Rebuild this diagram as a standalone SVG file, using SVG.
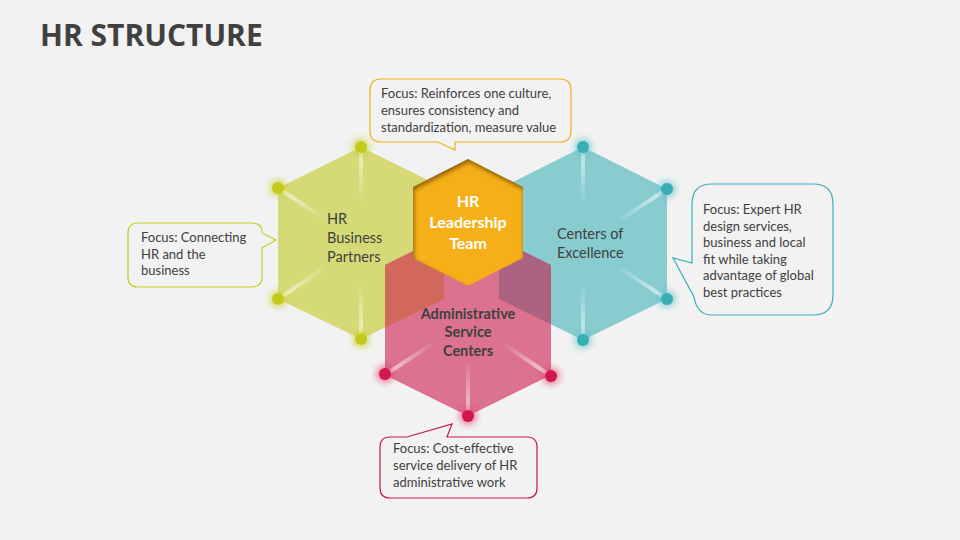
<svg xmlns="http://www.w3.org/2000/svg" width="960" height="540" viewBox="0 0 960 540">
<defs>
<style>
.title{font-family:"Open Sans","Liberation Sans",sans-serif;font-weight:700;font-size:30px;fill:#404040}
.body{font-family:Lato,"Liberation Sans",sans-serif;font-size:13px;fill:#404040}
.hx{font-family:Lato,"Liberation Sans",sans-serif;font-size:14.5px;fill:#404040}
.hxb{font-family:Lato,"Liberation Sans",sans-serif;font-size:14.5px;font-weight:700;fill:#404040}
.hxw{font-family:Lato,"Liberation Sans",sans-serif;font-size:16px;font-weight:700;fill:#ffffff}
.callout{fill:#F2F2F2;stroke-width:1.2}
.spoke{stroke:#ffffff;stroke-width:4;stroke-opacity:0.65;stroke-linecap:round}
</style>
<radialGradient id="fade"><stop offset="0.4" stop-color="#000"/><stop offset="0.97" stop-color="#fff"/></radialGradient>
<mask id="mG" maskUnits="userSpaceOnUse" x="0" y="0" width="960" height="540"><circle cx="361" cy="243" r="100" fill="url(#fade)"/></mask>
<mask id="mT" maskUnits="userSpaceOnUse" x="0" y="0" width="960" height="540"><circle cx="583" cy="244" r="100" fill="url(#fade)"/></mask>
<mask id="mP" maskUnits="userSpaceOnUse" x="0" y="0" width="960" height="540"><circle cx="468" cy="320" r="100" fill="url(#fade)"/></mask>
<filter id="glow" x="-100%" y="-100%" width="300%" height="300%"><feGaussianBlur stdDeviation="3"/></filter>
<filter id="blur" x="-20%" y="-20%" width="140%" height="140%"><feGaussianBlur stdDeviation="2"/></filter>
<clipPath id="orClip"><polygon points="468,159 523,187 523,258 468,286 413,258 413,187"/></clipPath>
</defs>
<rect width="960" height="540" fill="#F2F2F2"/>
<text class="title" x="40" y="46">HR STRUCTURE</text>

<g id="hr-business-partners">
<polygon points="361,147 444,188 444,299 361,339 278,299 278,188" fill="#D5DA77"/>
</g>
<g id="centers-of-excellence">
<polygon points="583,147 667,189 667,299 583,340 499,299 499,189" fill="#89CCD0"/>
</g>
<g id="administrative-service-centers">
<polygon points="468,224 551,265 551,375 468,416 385,375 385,265" fill="#DC7290"/>
<polygon points="385,265 444,236 444,299 385,327.4" fill="#D1685B"/>
<polygon points="499,239.3 551,265 551,324.4 499,299" fill="#AE6281"/>
</g>

<g id="spokes">
<g mask="url(#mG)">
<line class="spoke" x1="361" y1="147" x2="361" y2="243"/>
<line class="spoke" x1="278" y1="188" x2="361" y2="243"/>
<line class="spoke" x1="278" y1="299" x2="361" y2="243"/>
<line class="spoke" x1="361" y1="339" x2="361" y2="243"/>
</g>
<g mask="url(#mT)">
<line class="spoke" x1="583" y1="147" x2="583" y2="244"/>
<line class="spoke" x1="667" y1="189" x2="583" y2="244"/>
<line class="spoke" x1="667" y1="299" x2="583" y2="244"/>
<line class="spoke" x1="583" y1="340" x2="583" y2="244"/>
</g>
<g mask="url(#mP)">
<line class="spoke" x1="385" y1="375" x2="468" y2="320"/>
<line class="spoke" x1="551" y1="376" x2="468" y2="320"/>
<line class="spoke" x1="468" y1="416" x2="468" y2="320"/>
</g>
</g>

<g id="dots">
<g fill="#C9CF2A">
<circle cx="361" cy="147" r="9" opacity="0.6" filter="url(#glow)"/>
<circle cx="278" cy="188" r="9" opacity="0.6" filter="url(#glow)"/>
<circle cx="278" cy="299" r="9" opacity="0.6" filter="url(#glow)"/>
<circle cx="361" cy="339" r="9" opacity="0.6" filter="url(#glow)"/>
</g>
<g fill="#C3CA1C">
<circle cx="361" cy="147" r="6"/><circle cx="278" cy="188" r="6"/><circle cx="278" cy="299" r="6"/><circle cx="361" cy="339" r="6"/>
</g>
<g fill="#5EC0C7">
<circle cx="583" cy="147" r="9" opacity="0.6" filter="url(#glow)"/>
<circle cx="667" cy="189" r="9" opacity="0.6" filter="url(#glow)"/>
<circle cx="667" cy="299" r="9" opacity="0.6" filter="url(#glow)"/>
<circle cx="583" cy="340" r="9" opacity="0.6" filter="url(#glow)"/>
</g>
<g fill="#38ADB6">
<circle cx="583" cy="147" r="6"/><circle cx="667" cy="189" r="6"/><circle cx="667" cy="299" r="6"/><circle cx="583" cy="340" r="6"/>
</g>
<g fill="#E0406D">
<circle cx="385" cy="374" r="9" opacity="0.6" filter="url(#glow)"/>
<circle cx="551" cy="376" r="9" opacity="0.6" filter="url(#glow)"/>
<circle cx="468" cy="416" r="9" opacity="0.6" filter="url(#glow)"/>
</g>
<g fill="#D0184C">
<circle cx="385" cy="374" r="6"/><circle cx="551" cy="376" r="6"/><circle cx="468" cy="416" r="6"/>
</g>
</g>

<g id="hr-leadership-team">
<polygon points="468,159 523,187 523,258 468,286 413,258 413,187" fill="#F6AF19"/>
<g clip-path="url(#orClip)">
<path d="M380,130 H560 V310 H380 Z M469,162 L524,190 L524,261 L469,289 L414,261 L414,190 Z" fill-rule="evenodd" fill="#6B4A08" opacity="0.75" filter="url(#blur)"/>
</g>
<text class="hxw" x="468" y="207" text-anchor="middle">HR</text>
<text class="hxw" x="468" y="228" text-anchor="middle">Leadership</text>
<text class="hxw" x="468" y="249" text-anchor="middle">Team</text>
</g>

<g id="labels">
<text class="hx" x="327" y="224">HR</text>
<text class="hx" x="327" y="243">Business</text>
<text class="hx" x="327" y="262">Partners</text>
<text class="hx" x="557" y="239">Centers of</text>
<text class="hx" x="557" y="258">Excellence</text>
<text class="hxb" x="468" y="319" text-anchor="middle">Administrative</text>
<text class="hxb" x="468" y="337" text-anchor="middle">Service</text>
<text class="hxb" x="468" y="356" text-anchor="middle">Centers</text>
</g>

<g id="callout-top">
<path class="callout" stroke="#F2B01E" d="M381,79 H560 Q571,79 571,90 V131 Q571,142 560,142 H455 V150 L438,142 H381 Q370,142 370,131 V90 Q370,79 381,79 Z"/>
<text class="body" x="381" y="98">Focus: Reinforces one culture,</text>
<text class="body" x="381" y="115">ensures consistency and</text>
<text class="body" x="381" y="132">standardization, measure value</text>
</g>
<g id="callout-left">
<path class="callout" stroke="#C5CC25" d="M138,223 H252 Q262,223 262,232 V233 L276,240 L262,248 V277 Q262,287 252,287 H138 Q128,287 128,277 V233 Q128,223 138,223 Z"/>
<text class="body" x="141" y="242">Focus: Connecting</text>
<text class="body" x="141" y="259">HR and the</text>
<text class="body" x="141" y="275">business</text>
</g>
<g id="callout-right">
<path class="callout" stroke="#3AAFB8" d="M712,184 H813 Q833,184 833,204 V295 Q833,315 813,315 H712 Q697,315 694,297 L673,258 L692,263 V204 Q692,184 712,184 Z"/>
<text class="body" x="703" y="214">Focus: Expert HR</text>
<text class="body" x="703" y="231">design services,</text>
<text class="body" x="703" y="247">business and local</text>
<text class="body" x="703" y="264">fit while taking</text>
<text class="body" x="703" y="280">advantage of global</text>
<text class="body" x="703" y="297">best practices</text>
</g>
<g id="callout-bottom">
<path class="callout" stroke="#C8194B" d="M390,437 H407 L452,424 L447,437 H527 Q537,437 537,447 V488 Q537,498 527,498 H390 Q380,498 380,488 V447 Q380,437 390,437 Z"/>
<text class="body" x="393" y="453">Focus: Cost-effective</text>
<text class="body" x="393" y="470">service delivery of HR</text>
<text class="body" x="393" y="487">administrative work</text>
</g>
</svg>
